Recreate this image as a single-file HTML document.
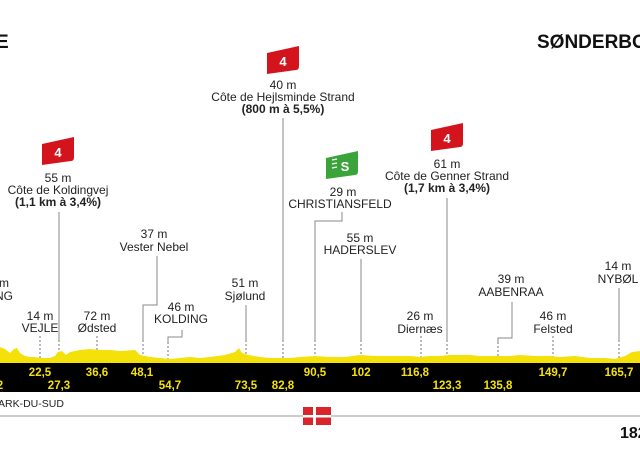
<!DOCTYPE html>
<html><head><meta charset="utf-8"><style>
html,body{margin:0;padding:0;background:#fff;}
svg{display:block;}
text{font-family:"Liberation Sans","DejaVu Sans",sans-serif;}
</style></head><body>
<svg width="640" height="473" viewBox="0 0 640 473" xmlns="http://www.w3.org/2000/svg">
<rect width="640" height="473" fill="#fff"/>
<text x="-4" y="48" font-size="19" font-weight="bold" fill="#111">E</text>
<text x="537" y="48" font-size="19" font-weight="bold" fill="#111">SØNDERBO</text>

<g stroke="#888" stroke-width="1" fill="none">
<line x1="283" y1="118" x2="283" y2="340"/>
<line x1="59" y1="212" x2="59" y2="340"/>
<polyline points="342,212 342,221 315,221 315,340"/>
<line x1="447" y1="198" x2="447" y2="340"/>
<polyline points="157,256 157,305 143,305 143,340"/>
<line x1="361" y1="259" x2="361" y2="340"/>
<line x1="246" y1="305" x2="246" y2="340"/>
<polyline points="512,302 512,338 498,338 498,342"/>
<line x1="619" y1="288" x2="619" y2="340"/>
<polyline points="182,330 182,337 168,337 168,342"/>
</g>
<g stroke="#777" stroke-width="1" stroke-dasharray="2,2">
<line x1="40" y1="336" x2="40" y2="392"/>
<line x1="59" y1="340" x2="59" y2="392"/>
<line x1="97" y1="336" x2="97" y2="392"/>
<line x1="143" y1="340" x2="143" y2="392"/>
<line x1="168" y1="342" x2="168" y2="392"/>
<line x1="246" y1="340" x2="246" y2="392"/>
<line x1="283" y1="340" x2="283" y2="392"/>
<line x1="315" y1="340" x2="315" y2="392"/>
<line x1="361" y1="340" x2="361" y2="392"/>
<line x1="421" y1="336" x2="421" y2="392"/>
<line x1="447" y1="340" x2="447" y2="392"/>
<line x1="498" y1="342" x2="498" y2="392"/>
<line x1="553" y1="336" x2="553" y2="392"/>
<line x1="619" y1="340" x2="619" y2="392"/>
</g>

<polygon fill="#f5e10a" points="0,363 0,347 5,349 10,353 14,349 17,348 20,353 25,356 30,357 35,357 40,358 45,358 50,358 55,356 58,352 62,351 66,355 70,352 80,350 90,349 100,350 110,350 120,351 135,350 140,355 150,357 160,358 170,359 180,358 190,357 200,358 210,357 225,355 235,352 239,348 242,353 248,355 260,357 270,358 280,358 290,358 300,357 315,356 330,357 345,357 360,355 375,356 390,356 400,356 410,356 420,357 430,356 440,356 450,355 460,355 470,355 480,356 490,356 500,356 510,356 520,355 535,356 550,356 560,357 575,356 590,358 605,358 615,359 625,356 632,352 640,351 640,363"/>
<rect x="0" y="363" width="640" height="29" fill="#000"/>

<g font-size="11.5" font-weight="bold" fill="#f5e10a" text-anchor="middle">
<text x="40" y="376">22,5</text><text x="97" y="376">36,6</text><text x="142" y="376">48,1</text>
<text x="315" y="376">90,5</text><text x="361" y="376">102</text><text x="415" y="376">116,8</text>
<text x="553" y="376">149,7</text><text x="619" y="376">165,7</text>
<text x="0" y="389">2</text><text x="59" y="389">27,3</text><text x="170" y="389">54,7</text>
<text x="246" y="389">73,5</text><text x="283" y="389">82,8</text><text x="447" y="389">123,3</text>
<text x="498" y="389">135,8</text>
</g>

<text x="-2" y="407" font-size="10.5" fill="#222">ARK-DU-SUD</text>
<line x1="0" y1="416" x2="640" y2="416" stroke="#999" stroke-width="1"/>
<rect x="303" y="407" width="28" height="18" fill="#d9262c"/>
<rect x="313" y="407" width="3" height="18" fill="#fff"/>
<rect x="303" y="415" width="28" height="2.5" fill="#fff"/>
<text x="620" y="438" font-size="16" font-weight="bold" fill="#111">182</text>

<g>
<path d="M267,53 L299,46 L299,66 Q299,70 296,70 L267,74 Z" fill="#d4141d"/>
<text x="283" y="66" font-size="13" font-weight="bold" fill="#fff" text-anchor="middle">4</text>
<path d="M42,144 L74,137 L74,157 Q74,161 71,161 L42,165 Z" fill="#d4141d"/>
<text x="58" y="157" font-size="13" font-weight="bold" fill="#fff" text-anchor="middle">4</text>
<path d="M431,130 L463,123 L463,143 Q463,147 460,147 L431,151 Z" fill="#d4141d"/>
<text x="447" y="143" font-size="13" font-weight="bold" fill="#fff" text-anchor="middle">4</text>
<path d="M326,158 L358,151 L358,171 Q358,175 355,175 L326,179 Z" fill="#3aa33a"/>
<text x="345" y="171" font-size="13" font-weight="bold" fill="#fff" text-anchor="middle">S</text>
<g stroke="#fff" stroke-width="1.2"><line x1="332" y1="160" x2="337" y2="159"/><line x1="332" y1="164" x2="337" y2="163"/><line x1="332" y1="168" x2="337" y2="167"/></g>
</g>

<g font-size="12" fill="#222" text-anchor="middle">
<text x="283" y="89">40 m</text><text x="283" y="101">Côte de Hejlsminde Strand</text>
<text x="283" y="113" font-weight="bold">(800 m à 5,5%)</text>
<text x="58" y="182">55 m</text><text x="58" y="194">Côte de Koldingvej</text>
<text x="58" y="206" font-weight="bold">(1,1 km à 3,4%)</text>
<text x="447" y="168">61 m</text><text x="447" y="180">Côte de Genner Strand</text>
<text x="447" y="192" font-weight="bold">(1,7 km à 3,4%)</text>
<text x="343" y="196">29 m</text><text x="340" y="208">CHRISTIANSFELD</text>
<text x="154" y="238">37 m</text><text x="154" y="251">Vester Nebel</text>
<text x="360" y="242">55 m</text><text x="360" y="254">HADERSLEV</text>
<text x="245" y="287">51 m</text><text x="245" y="300">Sjølund</text>
<text x="511" y="283">39 m</text><text x="511" y="296">AABENRAA</text>
<text x="618" y="270">14 m</text><text x="618" y="283">NYBØL</text>
<text x="4" y="287">m</text><text x="4" y="300">NG</text>
<text x="40" y="320">14 m</text><text x="40" y="332">VEJLE</text>
<text x="97" y="320">72 m</text><text x="97" y="332">Ødsted</text>
<text x="181" y="311">46 m</text><text x="181" y="323">KOLDING</text>
<text x="420" y="320">26 m</text><text x="420" y="333">Diernæs</text>
<text x="553" y="320">46 m</text><text x="553" y="333">Felsted</text>
</g>
</svg>
</body></html>
